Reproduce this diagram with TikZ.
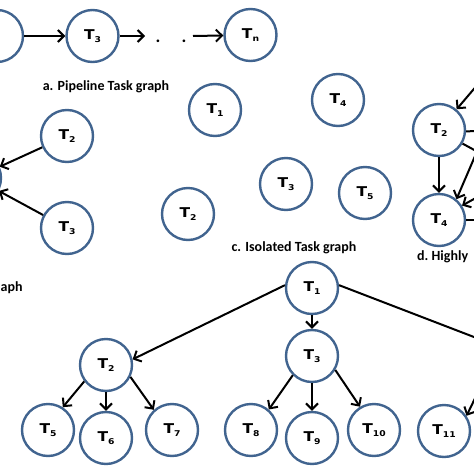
\documentclass[tikz,border=0pt]{standalone}
\usepackage{fontspec}
\setmainfont{Carlito}
\newfontfamily\nodefont{DejaVu Sans}
\usetikzlibrary{arrows.meta}
\definecolor{nodeblue}{HTML}{41648F}
\newcommand\Tsub[1]{\scalebox{1.15}[1]{T\raisebox{-0.45ex}{\fontsize{8}{8}\selectfont #1}}}
\begin{document}
\begin{tikzpicture}[x=1pt,y=-1pt,
 task/.style={circle, draw=nodeblue, line width=2.4pt, fill=white, minimum size=52pt, inner sep=0pt, font=\nodefont\fontsize{13.5}{13.5}\selectfont\bfseries},
 arr/.style={line width=2pt, -{Straight Barb[length=6pt,width=12pt]}},
 lin/.style={line width=2pt},
 captext/.style={font=\fontsize{14}{14}\selectfont\bfseries, inner sep=0pt},
 dotn/.style={font=\fontsize{18}{18}\selectfont\bfseries, inner sep=0pt}]
\useasboundingbox (0,0) rectangle (474,474);
\clip (0,0) rectangle (474,474);

% a. pipeline
\node[task] (p2) at (-3,36) {};
\node[task] (p3) at (92.5,36) {\Tsub{3}};
\node[task] (pn) at (250.5,35) {\Tsub{n}};
\node[dotn] (dot1) at (158,41) {.};
\node[dotn] (dot2) at (184,41) {.};
\coordinate (pa) at (145,36);
\coordinate (pb) at (193,36);
\draw[arr] (p2) -- (p3);
\draw[arr] (p3) -- (pa);
\draw[arr] (pb) -- (pn);
\node[captext] (capa) at (106,87) {a. Pipeline Task graph};

% b.
\node[task] (bt) at (-25,178) {};
\node[task] (b2) at (67,136) {\Tsub{2}};
\node[task] (b3) at (67,228) {\Tsub{3}};
\draw[arr] (b2) -- (bt);
\draw[arr] (b3) -- (bt);
\node[captext, anchor=west] (capb) at (0.5,288) {aph};

% c. isolated
\node[task] (c1) at (215,110) {\Tsub{1}};
\node[task] (c4) at (338,100) {\Tsub{4}};
\node[task] (c2) at (188,214) {\Tsub{2}};
\node[task] (c3) at (286,184) {\Tsub{3}};
\node[task] (c5) at (365,193) {\Tsub{5}};
\node[captext] (capc) at (294,248) {c. Isolated Task graph};

% d. highly communicating
\node[task] (d2) at (439,130) {\Tsub{2}};
\node[task] (d4) at (439,220) {\Tsub{4}};
\coordinate (dA) at (490,70);
\coordinate (dB) at (520,129);
\coordinate (dC) at (500,164);
\coordinate (dD) at (506,84);
\coordinate (dE) at (501,184);
\coordinate (dF) at (520,220);
\draw[arr] (dA) -- (d2);
\draw[lin] (d2.-3) -- (dB);
\draw[lin] (d2.-30) -- (dC);
\draw[arr] (d2) -- (d4);
\draw[arr] (dD) -- (d4.50);
\draw[arr] (dE) -- (d4.32);
\draw[lin] (d4.east) -- (dF);
\node[captext, anchor=west] (capd) at (417,257) {d.\ Highly};

% e. tree
\node[task] (e1) at (312,288) {\Tsub{1}};
\node[task] (e2) at (106,365) {\Tsub{2}};
\node[task] (e3) at (312,356) {\Tsub{3}};
\node[task] (e5) at (48,430) {\Tsub{5}};
\node[task] (e6) at (106,438) {\Tsub{6}};
\node[task] (e7) at (172,430) {\Tsub{7}};
\node[task] (e8) at (251,430) {\Tsub{8}};
\node[task] (e9) at (312,438) {\Tsub{9}};
\node[task] (e10) at (374,430) {\Tsub{10}};
\node[task] (e11) at (444,431) {\Tsub{11}};
\coordinate (eA) at (526,357);
\coordinate (eB) at (496,355);
\draw[arr] (e1.174) -- (e2.12);
\draw[arr] (e1) -- (e3);
\draw[lin] (e1.6) -- (eA);
\draw[arr] (eB) -- (e11.34);
\draw[arr] (e3.225) -- (e8.49);
\draw[arr] (e3) -- (e9);
\draw[arr] (e3.-31) -- (e10.121);
\draw[arr] (e2.217) -- (e5.57);
\draw[arr] (e2) -- (e6);
\draw[arr] (e2.-26) -- (e7.132);
\end{tikzpicture}
\end{document}
